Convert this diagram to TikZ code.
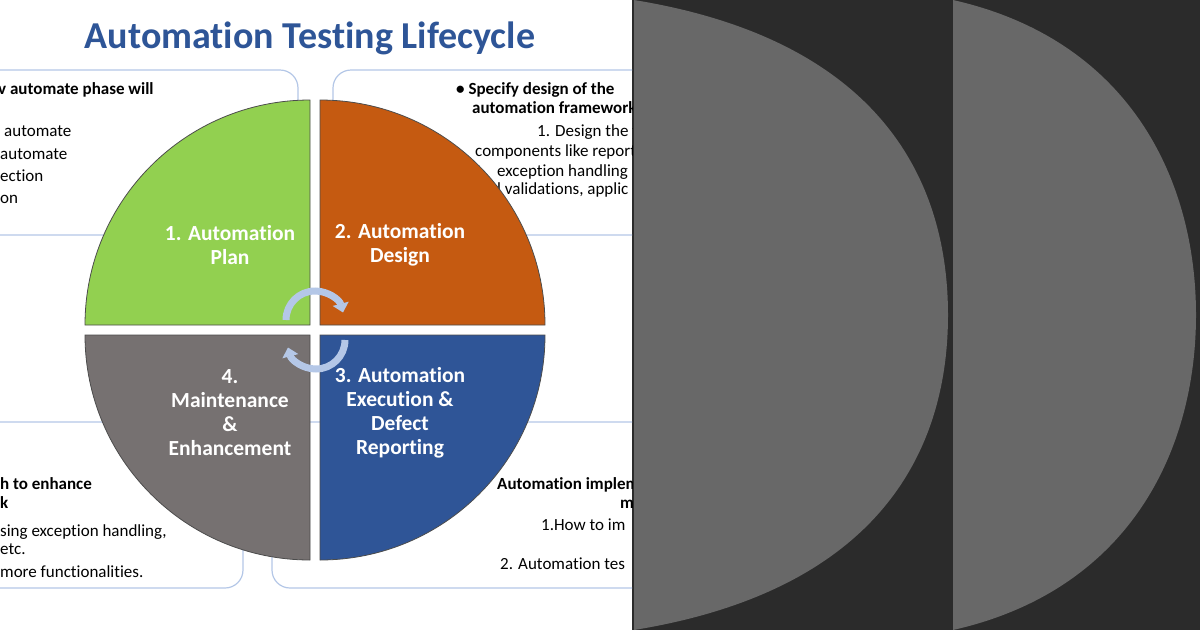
\documentclass[tikz,border=0pt]{standalone}
\usepackage{fontspec}
\setmainfont{Carlito}[Ligatures={NoCommon}]
\usetikzlibrary{arrows.meta}
\definecolor{titleblue}{HTML}{2E5597}
\definecolor{qgreen}{HTML}{92D050}
\definecolor{qorange}{HTML}{C55A11}
\definecolor{qblue}{HTML}{2F5597}
\definecolor{qgray}{HTML}{767171}
\definecolor{boxline}{HTML}{B4C7E7}
\definecolor{darkbg}{HTML}{2B2B2B}
\definecolor{panelgray}{HTML}{686868}
\begin{document}
\begin{tikzpicture}[x=1pt,y=-1pt,
  quad/.style={draw=black!70,line width=0.8pt},
  qlabel/.style={text=white,font=\bfseries\fontsize{21.5}{24}\selectfont,align=center},
  box/.style={draw=boxline,line width=1.2pt,rounded corners=18pt},
  txt/.style={font=\fontsize{17}{20}\selectfont,anchor=base west,inner sep=0pt},
  btxt/.style={txt,font=\bfseries\fontsize{17}{20}\selectfont},
  cyc/.style={draw=boxline,line width=7pt,-{Triangle[width=16pt,length=9pt]}}]
\useasboundingbox (0,0) rectangle (1200,630);
\fill[white] (0,0) rectangle (632,630);
\fill[darkbg] (632,0) rectangle (1200,630);
\fill[panelgray] (634,0) .. controls (880,40) and (948,180) .. (948,315) .. controls (948,450) and (880,590) .. (634,630) -- cycle;
\begin{scope}
\clip (953,0) rectangle (1200,630);
\fill[panelgray] (953,0) .. controls (1130,40) and (1196,180) .. (1196,315) .. controls (1196,450) and (1130,590) .. (953,630) -- cycle;
\end{scope}
\begin{scope}
\clip (0,0) rectangle (632,630);
\node[font=\bfseries\fontsize{38}{44}\selectfont,text=titleblue] (title) at (310,38) {Automation Testing Lifecycle};
\draw[box] (-30,70) rectangle (298,235);
\draw[box] (333,70) rectangle (680,235);
\draw[box] (-30,422) rectangle (243,588);
\draw[box] (272,422) rectangle (680,588);
% text left top
\node[btxt] (t1) at (-2,94) {v automate phase will};
\node[txt] (t2) at (4,136) {automate};
\node[txt] (t3) at (0,159) {automate};
\node[txt] (t4) at (0,181) {ection};
\node[txt] (t5) at (0,203) {on};
% right top
\node[btxt] (r1) at (456,94) {• Specify design of the};
\node[btxt] (r2) at (472,113) {automation framework};
\node[txt] (r3) at (537,136) {1. Design the f};
\node[txt] (r4) at (475,156) {components like reporting,};
\node[txt] (r5) at (497,176) {exception handling};
\node[txt] (r6) at (497,194) {l validations, applic};
% left bottom
\node[btxt] (b1) at (0,489) {h to enhance};
\node[btxt] (b2) at (0,508) {k};
\node[txt] (b3) at (0,536) {sing exception handling,};
\node[txt] (b4) at (0,554) {etc.};
\node[txt] (b5) at (0,577) {more functionalities.};
% right bottom
\node[btxt] (c1) at (497,489) {Automation implementation};
\node[btxt] (c2) at (620,508) {m};
\node[txt] (c3) at (541,530) {1.How to im};
\node[txt] (c4) at (500,569) {2. Automation tes};
% quadrants
\fill[qgreen,quad] (310,325) -- (85,325) arc[start angle=180,end angle=270,radius=225] -- cycle;
\fill[qorange,quad] (320,325) -- (320,100) arc[start angle=270,end angle=360,radius=225] -- cycle;
\fill[qblue,quad] (320,335) -- (545,335) arc[start angle=0,end angle=90,radius=225] -- cycle;
\fill[qgray,quad] (310,335) -- (310,560) arc[start angle=90,end angle=180,radius=225] -- cycle;
\node[qlabel] (q1) at (230,245) {1. Automation\\Plan};
\node[qlabel] (q2) at (400,245) {2. Automation\\Design};
\node[qlabel] (q4) at (230,413) {4.\\Maintenance\\\&\\Enhancement};
\node[qlabel] (q3) at (400,413) {3. Automation\\Execution \&\\Defect\\Reporting};
\coordinate (o) at (315,330);
\draw[cyc] (286,320) arc[start angle=180,end angle=345,radius=29];
\draw[cyc] (345,340) arc[start angle=0,end angle=165,radius=29];
\end{scope}
\end{tikzpicture}
\end{document}
